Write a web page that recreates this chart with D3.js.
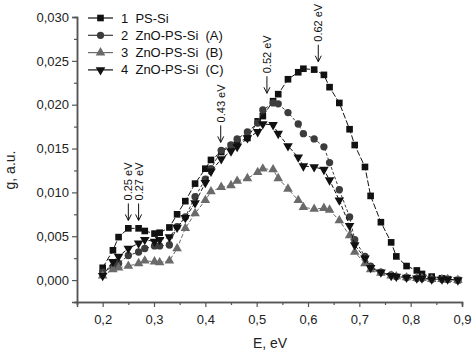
<!DOCTYPE html>
<html><head><meta charset="utf-8">
<script src="https://cdn.jsdelivr.net/npm/d3@7"></script>
<style>body{margin:0;background:#fff}svg{display:block}text{font-family:"Liberation Sans",Arial,sans-serif}</style>
</head><body><svg id="c" width="474" height="357"></svg>
<script>
const energy = [0.200,0.220,0.231,0.250,0.270,0.282,0.301,0.311,0.330,0.345,0.361,0.380,0.400,0.411,0.431,0.450,0.462,0.482,0.502,0.512,0.532,0.542,0.561,0.581,0.591,0.612,0.631,0.642,0.661,0.681,0.691,0.711,0.722,0.742,0.762,0.772,0.792,0.812,0.822,0.841,0.861,0.872,0.892];
const psSi = [0.0014,0.0034,0.0049,0.0059,0.0059,0.0056,0.0053,0.0054,0.0060,0.0075,0.0090,0.0110,0.0127,0.0137,0.0146,0.0153,0.0157,0.0162,0.0181,0.0187,0.0204,0.0212,0.0229,0.0237,0.0241,0.0240,0.0234,0.0220,0.0202,0.0172,0.0154,0.0129,0.0096,0.0066,0.0043,0.0027,0.0016,0.0011,0.0007,0.0004,0.0002,0.0001,0.0000];
const znoA = [0.0009,0.0015,0.0019,0.0028,0.0032,0.0036,0.0039,0.0039,0.0040,0.0061,0.0072,0.0095,0.0115,0.0127,0.0148,0.0154,0.0161,0.0169,0.0179,0.0194,0.0202,0.0201,0.0191,0.0178,0.0167,0.0161,0.0152,0.0134,0.0103,0.0072,0.0046,0.0027,0.0016,0.0009,0.0006,0.0004,0.0003,0.0002,0.0002,0.0001,0.0001,0.0001,0.0000];
const znoB = [0.0005,0.0012,0.0014,0.0016,0.0019,0.0022,0.0021,0.0020,0.0022,0.0036,0.0059,0.0076,0.0091,0.0101,0.0106,0.0108,0.0113,0.0116,0.0123,0.0127,0.0126,0.0116,0.0104,0.0091,0.0083,0.0081,0.0082,0.0080,0.0068,0.0051,0.0032,0.0019,0.0012,0.0008,0.0005,0.0004,0.0003,0.0002,0.0002,0.0001,0.0001,0.0001,0.0000];
const znoC = [0.0005,0.0021,0.0027,0.0036,0.0042,0.0046,0.0044,0.0046,0.0049,0.0060,0.0071,0.0088,0.0111,0.0124,0.0138,0.0147,0.0152,0.0162,0.0169,0.0178,0.0177,0.0167,0.0153,0.0140,0.0130,0.0129,0.0126,0.0114,0.0091,0.0062,0.0040,0.0025,0.0014,0.0009,0.0005,0.0004,0.0003,0.0002,0.0002,0.0001,0.0001,0.0001,0.0000];
const seriesNames = ["1  PS-Si","2  ZnO-PS-Si  (A)","3  ZnO-PS-Si  (B)","4  ZnO-PS-Si  (C)"];
const xTicks = [0.2,0.3,0.4,0.5,0.6,0.7,0.8,0.9];
const yTicks = [0.000,0.005,0.010,0.015,0.020,0.025,0.030];
const peakLabels = ["0.25 eV","0.27 eV","0.43 eV","0.52 eV","0.62 eV"];
const peakEnergy = [0.25,0.27,0.43,0.52,0.62];
const peakTipValue = [0.0068,0.0068,0.0157,0.0213,0.0249];

const svg = d3.select("#c");
const x = d3.scaleLinear().domain([0.15,0.9]).range([77,462]);
const y = d3.scaleLinear().domain([-0.0025,0.030]).range([302,17]);
const loc = d3.formatLocale({decimal:",",thousands:" ",grouping:[3],currency:["",""]});
const axisCol = "#555";

const xMinor = d3.range(0.15,0.9,0.1).map(v=>+v.toFixed(2));
const yMinor = d3.range(-0.0025,0.030,0.005).map(v=>+v.toFixed(4));
const gx = svg.append("g").attr("transform","translate(0,302)");
gx.call(d3.axisBottom(x).tickValues(xMinor).tickSize(3).tickFormat(""));
gx.call(g=>g.append("g").call(d3.axisBottom(x).tickValues(xTicks).tickSize(5).tickPadding(8).tickFormat(loc.format(".1f"))));
const gy = svg.append("g").attr("transform","translate(77,0)");
gy.call(d3.axisLeft(y).tickValues(yMinor).tickSize(3).tickFormat(""));
gy.call(g=>g.append("g").call(d3.axisLeft(y).tickValues(yTicks).tickSize(5).tickPadding(3).tickFormat(loc.format(".3f"))));
svg.selectAll(".domain").attr("stroke",axisCol).attr("stroke-width",1.5);
svg.selectAll(".tick line").attr("stroke",axisCol).attr("stroke-width",1.2);
svg.selectAll(".tick text").attr("font-size",13).attr("fill","#222").style("font-family","Liberation Sans, Arial, sans-serif");

svg.append("text").attr("x",270).attr("y",348).attr("text-anchor","middle").attr("font-size",14).attr("fill","#222").text("E, eV");
svg.append("text").attr("transform","translate(15,170) rotate(-90)").attr("text-anchor","middle").attr("font-size",14).attr("fill","#222").text("g, a.u.");

const series = [
 {v:psSi, col:"#111", sym:d3.symbolSquare, size:44, dash:"6,2", rot:0},
 {v:znoA, col:"#3c3c3c", sym:d3.symbolCircle, size:42, dash:"3,2", rot:0},
 {v:znoB, col:"#6a6a6a", sym:d3.symbolTriangle, size:40, dash:"4,2", rot:0},
 {v:znoC, col:"#111", sym:d3.symbolTriangle, size:40, dash:"4,2", rot:180}
];
const line = d3.line().x(d=>x(d[0])).y(d=>y(d[1]));
series.forEach(s=>{
  const pts = energy.map((e,i)=>[e,s.v[i]]);
  svg.append("path").attr("d",line(pts)).attr("fill","none").attr("stroke",s.col).attr("stroke-width",1).attr("stroke-dasharray",s.dash);
  svg.append("g").selectAll("path").data(pts).join("path")
    .attr("d",d3.symbol(s.sym,s.size)())
    .attr("transform",d=>`translate(${x(d[0])},${y(d[1])}) rotate(${s.rot})`)
    .attr("fill",s.col);
});

const lg = svg.append("g");
series.forEach((s,i)=>{
  const yy = 18 + i*17.3;
  lg.append("line").attr("x1",88).attr("x2",113).attr("y1",yy).attr("y2",yy).attr("stroke",s.col).attr("stroke-width",1.2);
  lg.append("path").attr("d",d3.symbol(s.sym,s.size)()).attr("transform",`translate(100.5,${yy}) rotate(${s.rot})`).attr("fill",s.col);
  lg.append("text").attr("x",121).attr("y",yy+4.5).attr("font-size",13).attr("fill","#111").attr("xml:space","preserve").style("white-space","pre").text(seriesNames[i]);
});

peakEnergy.forEach((e,i)=>{
  const px = x(e), tip = y(peakTipValue[i]);
  const top = tip - 17;
  const a = svg.append("g").attr("stroke","#111").attr("fill","none").attr("stroke-width",1);
  a.append("line").attr("x1",px).attr("x2",px).attr("y1",top).attr("y2",tip);
  a.append("path").attr("d",`M${px-3},${tip-6}L${px},${tip}L${px+3},${tip-6}`);
  svg.append("text").attr("transform",`translate(${px+4},${top-3}) rotate(-90)`).attr("font-size",11).attr("fill","#111").text(peakLabels[i]);
});
</script></body></html>
